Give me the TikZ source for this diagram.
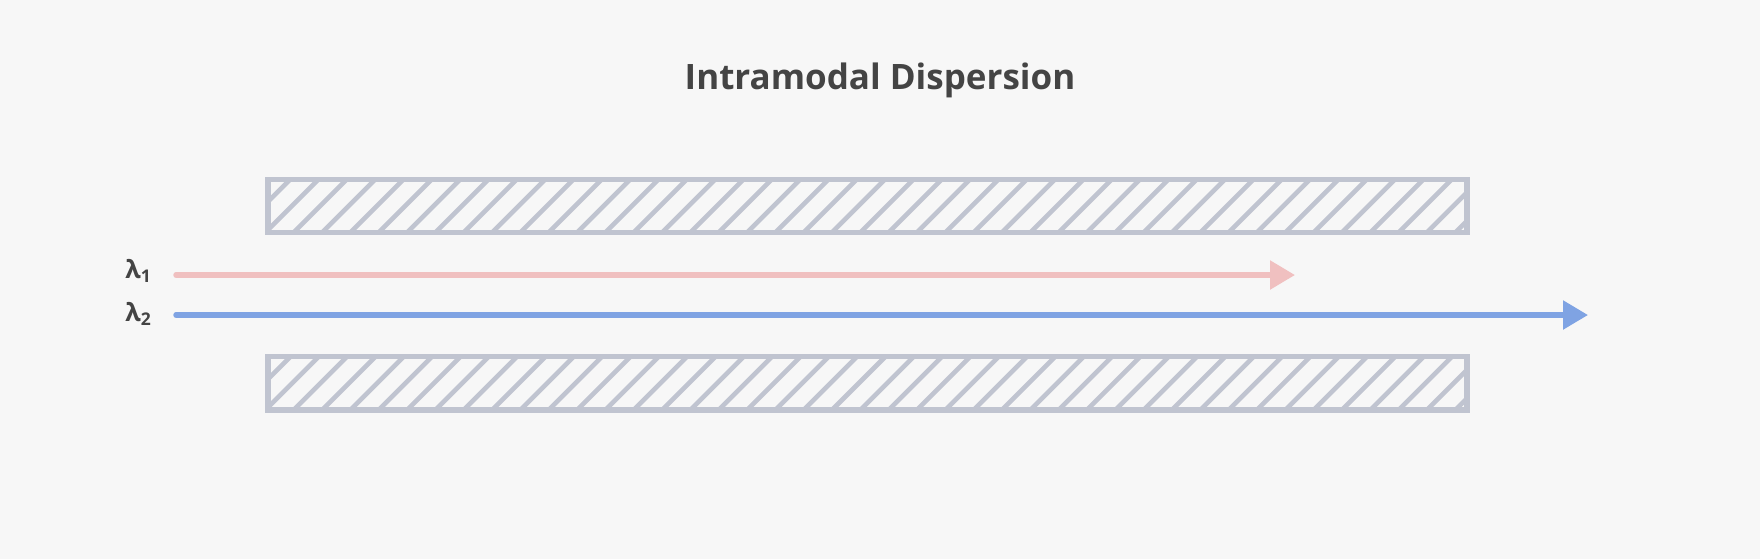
\documentclass[tikz,border=0pt]{standalone}
\usepackage{fontspec}
\setmainfont{Open Sans}
\usetikzlibrary{arrows.meta}
\definecolor{bgcol}{HTML}{F7F7F7}
\definecolor{wallcol}{HTML}{C0C4D0}
\definecolor{redray}{HTML}{F0C0C0}
\definecolor{blueray}{HTML}{7FA3E3}
\definecolor{txtcol}{HTML}{444444}
\begin{document}
\begin{tikzpicture}[x=0.5pt,y=-0.5pt]
 \tikzset{wall/.style={draw=wallcol, line width=2.7pt},
          hatch/.style={wallcol, line width=2.3pt},
          ray/.style={line width=2.7pt, line cap=round, -{Triangle[length=12.5pt,width=14pt]}},
          lbl/.style={anchor=base west, inner sep=0pt, text=txtcol, font=\bfseries\fontsize{12.5}{15}\selectfont}}
  \useasboundingbox[fill=bgcol] (0,0) rectangle (1760,559);
  \node[anchor=base, inner sep=0pt, text=txtcol, font=\bfseries\fontsize{17.5}{22}\selectfont] (TITLE) at (880,89) {Intramodal Dispersion};
  % cladding walls
  \foreach \top/\bot in {179.5/232.5, 356.5/410} {
    \begin{scope}
      \clip (268,\top) rectangle (1467,\bot);
      \foreach \k in {-3,...,43}
        \draw[hatch] ({291.7+28.33*\k},{\bot+2}) -- ({291.7+28.33*\k+(\bot-\top)+4},{\top-2});
    \end{scope}
    \draw[wall] (268,\top) rectangle (1467,\bot);
  }
  \node[lbl] (LAM1) at (125,278) {λ\textsubscript{1}};
  \node[lbl] (LAM2) at (125,321) {λ\textsubscript{2}};
  \coordinate (R1s) at (176,275);
  \coordinate (R1e) at (1295,275);
  \coordinate (R2s) at (176,315);
  \coordinate (R2e) at (1588,315);
  \draw[ray, redray] (R1s) -- (R1e);
  \draw[ray, blueray] (R2s) -- (R2e);
\end{tikzpicture}
\end{document}
